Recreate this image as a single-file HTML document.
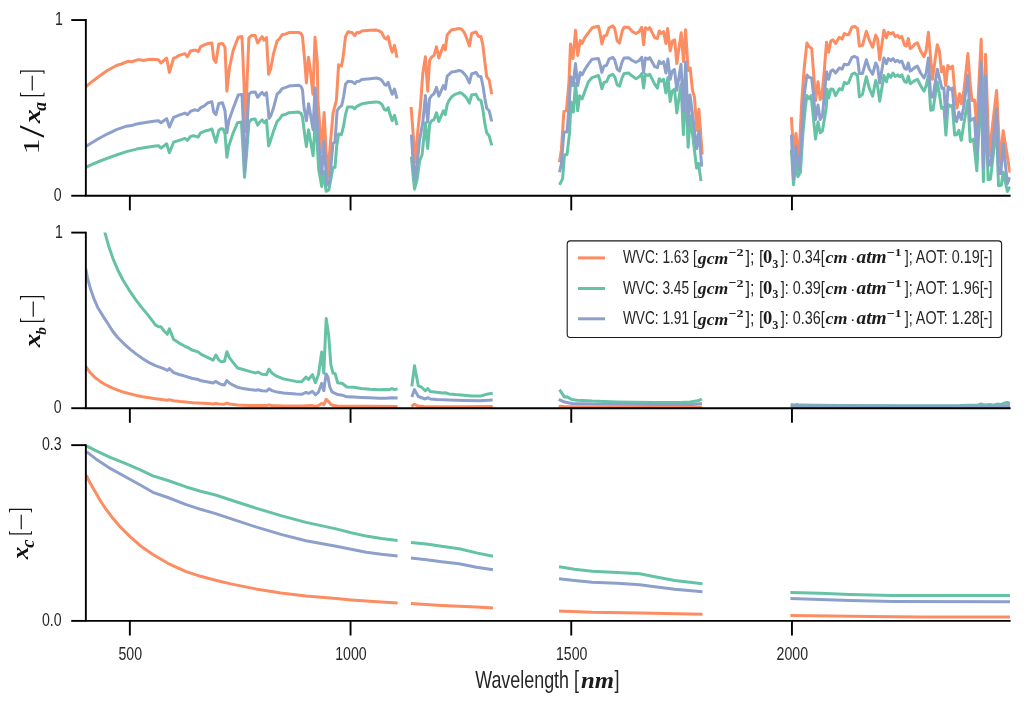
<!DOCTYPE html>
<html lang="en"><head><meta charset="utf-8"><title>Atmospheric correction coefficients</title>
<style>html,body{margin:0;padding:0;background:#fff}svg{display:block}</style></head>
<body>
<svg width="1024" height="701" viewBox="0 0 1024 701">
<rect width="1024" height="701" fill="#fff"/>
<defs>
<clipPath id="c0"><rect x="85.8" y="20.1" width="924.8" height="175.7"/></clipPath>
<clipPath id="c1"><rect x="85.8" y="232.6" width="924.8" height="175.6"/></clipPath>
<clipPath id="c2"><rect x="85.8" y="445.1" width="924.8" height="175.8"/></clipPath>
</defs>
<g clip-path="url(#c0)" fill="none" stroke-width="3.00" stroke-linejoin="round" stroke-linecap="butt">
<path stroke="#fc8d62" d="M85.7 86.8 L92.6 81.2 L100.2 75.5 L107.7 70.2 L116.5 65.5 L121.5 64.0 L127.8 61.3 L131.6 61.7 L138.5 59.6 L143.5 60.5 L149.7 59.2 L155.4 59.6 L158.5 59.8 L161.0 63.0 L166.7 58.2 L169.4 72.4 L173.6 58.2 L176.1 57.3 L179.2 55.4 L184.9 53.6 L187.4 56.9 L190.5 51.0 L193.7 50.2 L196.2 50.2 L198.3 51.7 L200.6 46.7 L204.3 44.8 L208.1 43.5 L211.9 42.9 L213.7 59.2 L215.9 62.3 L218.8 44.1 L222.5 43.5 L225.0 47.3 L226.9 91.2 L229.4 68.0 L233.2 50.4 L238.2 37.2 L242.0 36.6 L243.9 80.5 L245.5 131.5 L247.0 83.0 L248.9 37.9 L251.4 35.6 L255.2 35.6 L257.7 42.9 L260.2 39.1 L262.1 36.6 L263.9 40.1 L266.5 37.6 L268.6 74.3 L270.8 68.6 L273.4 54.2 L277.1 41.0 L279.6 38.5 L282.1 34.7 L285.9 33.9 L289.0 32.6 L298.5 32.5 L301.0 33.5 L302.5 36.6 L304.7 60.5 L306.4 83.0 L308.5 57.3 L310.4 70.5 L312.9 94.3 L315.0 37.2 L317.3 61.7 L317.9 100.3 L321.7 152.3 L324.1 112.6 L327.5 177.0 L333.0 113.3 L336.4 100.3 L338.6 64.8 L341.4 66.1 L343.0 57.9 L345.5 36.6 L348.0 31.8 L352.4 32.8 L354.7 35.6 L356.8 32.6 L359.3 32.8 L361.8 31.0 L370.0 30.3 L376.3 30.1 L379.4 31.0 L381.9 32.8 L384.4 37.9 L386.3 39.1 L388.2 36.4 L390.1 45.4 L392.2 52.3 L394.5 45.4 L397.0 57.7 M411.1 106.9 L412.9 130.9 L415.2 162.3 L417.7 132.1 L420.4 106.9 L422.7 74.3 L425.4 56.7 L427.7 91.2 L429.6 60.5 L431.5 57.3 L434.0 55.4 L436.5 46.7 L438.8 57.9 L443.4 45.4 L445.3 49.8 L447.2 34.7 L451.6 29.7 L455.3 29.3 L459.1 28.5 L461.6 29.3 L464.1 32.2 L466.6 37.9 L469.4 46.0 L471.6 33.5 L476.0 31.8 L478.5 36.4 L481.0 36.6 L482.9 45.4 L484.8 61.7 L486.7 76.8 L489.2 79.9 L491.7 94.3 M559.5 162.3 L561.4 149.7 L563.9 111.4 L566.4 110.8 L568.9 83.0 L570.5 44.1 L573.0 58.6 L575.5 30.3 L577.7 55.4 L580.2 40.4 L582.1 43.5 L584.6 37.9 L588.3 32.8 L592.1 27.8 L598.4 26.3 L599.9 32.2 L601.9 44.1 L604.0 36.0 L606.5 35.4 L609.0 27.8 L612.8 25.9 L614.7 28.5 L617.2 41.0 L619.5 43.1 L622.2 31.0 L624.1 27.2 L628.5 27.2 L632.3 31.6 L636.0 33.5 L639.2 31.6 L641.7 27.2 L643.6 44.8 L645.4 27.8 L647.9 29.3 L649.8 27.6 L652.3 32.8 L654.8 37.9 L657.4 38.5 L659.2 31.0 L661.1 33.5 L663.6 31.6 L665.9 43.5 L667.6 28.5 L670.2 51.0 L672.4 41.0 L674.7 39.8 L676.8 63.6 L681.2 32.8 L683.5 61.7 L685.6 29.7 L688.1 70.5 L690.2 68.0 L692.5 90.6 L694.4 96.8 L697.0 130.3 L698.9 109.3 L702.2 154.4 M791.4 117.1 L793.5 151.0 L796.0 133.4 L798.9 159.8 L801.7 101.9 L804.2 68.0 L806.9 43.1 L809.2 46.7 L811.7 48.5 L813.6 73.0 L815.5 100.6 L818.0 81.8 L820.2 99.4 L821.7 98.1 L824.3 70.5 L826.5 42.3 L828.6 52.3 L830.8 41.0 L833.0 39.8 L835.6 43.5 L839.3 37.2 L842.1 39.1 L844.3 33.5 L846.8 34.7 L848.7 34.7 L851.9 27.2 L854.4 26.3 L857.5 28.5 L859.4 46.0 L862.5 45.4 L866.3 31.3 L869.4 40.4 L872.6 47.3 L875.7 35.1 L877.6 39.1 L879.7 59.8 L883.9 30.3 L886.4 37.9 L888.3 32.2 L890.8 33.9 L893.0 32.6 L895.2 36.6 L897.7 35.4 L899.6 37.9 L901.8 36.4 L904.6 45.4 L906.5 46.0 L908.3 38.5 L910.2 48.5 L912.1 47.3 L914.9 44.1 L917.4 42.9 L920.6 51.0 L924.0 56.7 L926.2 50.4 L928.4 32.2 L930.6 57.9 L932.5 79.3 L935.0 60.5 L937.3 44.8 L939.4 51.0 L941.5 71.8 L943.5 66.7 L945.7 85.6 L947.8 65.5 L950.1 68.6 L952.6 66.1 L954.5 88.1 L957.0 108.1 L959.5 93.7 L961.4 103.8 L963.9 90.6 L965.7 74.3 L967.9 53.6 L970.1 83.0 L972.0 100.6 L974.5 100.0 L976.8 125.1 L981.2 39.2 L983.4 143.3 L985.6 54.3 L989.0 155.7 L996.6 90.5 L1000.1 162.3 L1003.2 130.8 L1010.0 172.7"/>
<path stroke="#66c2a5" d="M85.7 167.3 L92.6 164.1 L100.2 161.0 L107.7 158.1 L116.5 155.0 L126.5 151.6 L136.6 149.1 L145.4 147.6 L155.4 145.9 L158.5 145.7 L161.0 148.1 L166.7 143.8 L169.4 152.8 L173.6 142.2 L179.2 140.3 L184.9 138.4 L187.4 140.3 L190.5 136.5 L193.7 135.7 L198.1 137.2 L200.6 132.8 L204.3 131.3 L208.1 130.3 L211.9 129.0 L213.7 135.3 L215.9 142.2 L218.8 130.3 L220.6 128.8 L223.2 129.0 L225.0 134.0 L226.9 157.2 L228.8 145.9 L233.2 132.8 L237.6 122.7 L241.4 121.9 L243.2 152.2 L244.5 177.3 L246.4 156.0 L248.9 122.1 L251.4 119.6 L255.2 119.0 L257.7 125.2 L260.2 121.5 L262.1 119.8 L264.3 122.7 L266.5 120.2 L268.6 145.9 L270.8 139.7 L273.4 131.5 L277.1 121.5 L279.6 119.0 L282.1 115.2 L285.9 114.2 L289.0 112.7 L298.5 112.1 L301.0 113.3 L302.5 117.1 L304.7 134.7 L306.4 146.6 L308.6 129.7 L313.1 155.7 L315.6 115.4 L318.6 168.7 L321.7 186.5 L323.6 171.5 L326.1 191.3 L328.8 190.0 L333.0 167.4 L335.0 167.4 L336.7 145.9 L338.6 134.0 L341.4 134.7 L343.6 125.9 L345.5 114.6 L347.6 106.9 L352.4 106.9 L354.7 108.8 L356.8 106.3 L361.8 103.8 L370.0 102.5 L376.3 101.9 L379.4 102.5 L381.9 104.4 L384.4 109.6 L386.3 110.2 L388.2 107.7 L390.1 114.6 L392.2 120.8 L394.5 115.2 L397.0 125.2 M411.4 156.6 L412.9 173.6 L414.5 189.2 L417.0 179.8 L419.6 161.0 L422.1 154.7 L425.4 122.7 L427.7 148.5 L429.6 124.6 L431.5 120.8 L434.0 119.6 L436.5 112.7 L438.8 121.5 L443.4 110.8 L445.3 114.6 L447.2 104.4 L449.0 100.6 L451.6 96.8 L455.3 94.3 L459.1 92.8 L461.6 93.1 L464.1 95.3 L466.6 98.1 L469.4 103.1 L471.6 95.0 L476.0 94.3 L478.5 99.4 L481.0 100.6 L482.9 109.6 L484.8 123.4 L486.7 132.8 L489.2 135.9 L491.7 145.3 M559.5 184.8 L562.6 178.6 L564.5 154.7 L567.0 154.7 L569.5 133.4 L571.0 102.0 L573.3 112.1 L575.5 83.2 L577.7 110.8 L579.6 95.8 L582.1 98.9 L584.6 92.0 L588.3 81.9 L592.1 77.6 L598.4 75.5 L599.9 80.5 L601.9 88.7 L604.0 82.4 L606.5 81.8 L609.0 76.1 L612.8 74.3 L614.7 76.8 L617.2 84.9 L619.5 86.2 L622.2 77.4 L624.1 73.6 L628.5 73.0 L632.3 76.1 L636.0 78.7 L639.2 76.8 L641.7 73.6 L643.6 88.1 L645.4 74.3 L647.9 75.5 L649.8 74.3 L652.3 79.3 L654.8 84.3 L657.4 88.1 L659.2 78.7 L661.1 81.2 L663.6 79.3 L665.9 93.1 L667.9 77.5 L670.2 101.5 L672.1 91.1 L674.5 89.2 L676.8 112.9 L681.0 84.5 L683.4 134.7 L685.7 82.3 L688.1 147.3 L690.4 115.8 L696.6 168.1 L698.5 163.3 L701.0 181.1 M791.4 149.7 L793.5 184.8 L796.0 162.3 L797.9 176.7 L800.4 172.3 L802.9 133.4 L805.4 106.9 L806.9 95.6 L809.2 98.7 L811.1 95.6 L812.7 110.8 L815.5 139.0 L818.0 122.1 L820.2 132.8 L822.4 130.9 L824.3 119.6 L826.3 106.9 L827.0 89.3 L828.6 98.1 L830.8 89.1 L833.0 89.3 L835.6 95.6 L839.3 88.7 L842.1 89.9 L844.3 82.4 L846.8 83.7 L848.7 82.4 L851.9 74.3 L854.4 73.0 L857.5 75.5 L859.4 96.8 L862.5 94.3 L866.3 76.8 L869.4 88.7 L872.6 96.2 L875.7 80.5 L877.6 86.2 L879.7 101.2 L883.9 75.5 L886.4 81.8 L888.3 74.3 L890.8 77.4 L893.0 73.0 L895.2 76.5 L897.7 74.9 L899.6 76.8 L901.8 74.9 L904.6 81.8 L906.5 82.4 L908.3 76.1 L910.2 83.7 L912.1 82.4 L914.9 80.5 L917.4 79.3 L920.6 85.6 L924.0 91.2 L926.2 85.6 L928.4 75.5 L930.7 110.2 L933.0 109.7 L937.3 81.9 L939.6 95.3 L941.5 108.3 L943.9 107.3 L945.9 135.1 L948.1 104.3 L950.5 106.3 L952.3 105.3 L954.7 135.1 L956.6 134.7 L958.9 130.4 L961.3 140.3 L963.6 125.3 L967.9 100.3 L970.2 141.6 L973.5 139.2 L976.8 170.8 L981.2 85.3 L983.4 181.6 L985.6 98.3 L988.1 179.7 L990.5 179.2 L996.6 125.3 L998.5 185.8 L1001.3 185.3 L1003.2 172.3 L1007.4 191.5 L1010.0 186.8"/>
<path stroke="#8da0cb" d="M85.7 146.6 L92.6 142.2 L100.2 137.8 L107.7 133.8 L116.5 129.6 L126.5 126.2 L131.6 125.6 L136.6 124.0 L145.4 122.5 L155.4 121.0 L158.5 120.8 L161.0 122.7 L166.7 118.6 L169.4 127.1 L173.6 117.3 L179.2 115.2 L184.9 113.1 L187.4 114.8 L190.5 111.4 L194.3 109.8 L198.1 110.6 L200.6 107.7 L204.3 105.8 L208.1 102.7 L211.9 101.8 L213.7 112.1 L215.9 114.6 L218.8 103.5 L222.5 102.7 L225.0 110.8 L226.9 132.8 L228.8 120.8 L233.2 108.3 L238.2 95.1 L242.0 94.5 L243.2 120.8 L244.5 171.7 L246.4 145.9 L248.0 108.3 L248.9 94.2 L251.4 92.2 L255.2 92.0 L257.7 97.3 L260.2 94.2 L262.1 92.4 L264.3 95.1 L266.5 92.6 L268.1 108.3 L269.0 118.3 L270.8 115.8 L273.4 108.3 L277.1 94.2 L279.6 92.0 L282.1 88.6 L285.9 87.3 L289.0 86.1 L298.5 85.2 L301.0 86.5 L302.5 89.9 L304.1 108.3 L306.4 120.8 L308.6 103.7 L313.1 129.7 L315.0 87.7 L318.6 141.4 L321.7 174.2 L324.1 141.4 L326.8 185.2 L329.5 181.1 L333.0 143.4 L335.0 142.0 L337.1 110.6 L339.9 106.9 L341.7 105.6 L343.6 96.8 L345.5 84.3 L348.0 81.2 L352.4 81.8 L354.7 83.7 L356.8 81.4 L359.3 81.2 L361.8 79.5 L370.0 78.7 L376.3 78.0 L379.4 78.7 L381.9 80.5 L384.4 84.3 L386.3 85.3 L388.2 82.4 L390.1 88.7 L392.2 94.3 L394.5 89.1 L397.0 98.7 M411.4 134.7 L412.9 158.5 L414.9 179.8 L417.7 158.5 L419.6 139.7 L422.7 123.4 L425.4 95.6 L427.7 122.1 L429.6 98.7 L431.5 95.6 L434.0 93.7 L436.5 87.4 L438.8 96.2 L443.4 85.6 L445.3 89.1 L447.2 76.1 L451.6 72.0 L455.3 71.5 L459.1 70.5 L461.6 71.1 L464.1 73.6 L466.6 76.8 L469.4 83.0 L471.6 74.0 L476.0 72.4 L478.5 76.1 L481.0 76.8 L482.9 85.6 L484.8 98.1 L486.7 108.3 L489.2 110.8 L491.7 121.5 M559.5 172.3 L561.4 163.5 L563.9 132.1 L567.0 132.1 L568.9 108.3 L570.8 76.8 L573.0 85.6 L575.5 63.6 L577.7 85.6 L580.2 72.4 L582.1 74.9 L584.6 69.9 L588.3 64.2 L592.1 59.2 L598.4 58.6 L599.9 63.6 L601.9 72.4 L604.0 66.1 L606.5 65.5 L609.0 59.2 L612.8 57.3 L614.7 59.8 L617.2 69.2 L619.5 71.1 L622.2 61.7 L624.1 57.9 L628.5 57.7 L632.3 60.5 L636.0 62.3 L639.2 60.5 L641.7 57.3 L643.6 72.4 L645.4 57.9 L647.9 59.2 L649.8 57.7 L652.3 62.3 L654.8 66.7 L657.4 67.7 L659.2 61.1 L661.1 63.6 L663.6 61.7 L665.9 73.0 L667.9 59.1 L670.2 79.4 L672.1 71.4 L674.5 69.5 L676.8 90.2 L681.0 64.3 L683.4 111.3 L685.7 61.9 L688.1 125.3 L690.0 94.9 L691.9 109.0 L696.6 148.8 L698.9 130.9 L701.7 166.7 M791.4 134.7 L793.5 178.6 L796.0 145.9 L798.9 169.8 L801.0 149.7 L803.2 106.9 L804.8 90.6 L806.9 74.9 L809.2 77.4 L811.7 78.0 L813.6 95.6 L815.5 119.6 L818.0 105.0 L820.2 119.6 L822.4 115.8 L824.3 95.6 L826.5 71.8 L828.6 79.3 L830.8 71.1 L833.0 69.9 L835.6 73.0 L839.3 68.0 L842.1 69.2 L844.3 64.2 L846.8 64.8 L848.7 64.2 L851.9 57.3 L854.4 56.4 L857.5 57.9 L859.4 73.6 L862.5 73.6 L866.3 59.8 L869.4 69.2 L872.6 74.3 L875.7 63.0 L877.6 66.7 L879.7 83.0 L883.9 57.9 L886.4 63.6 L888.3 58.6 L890.8 60.5 L893.0 58.6 L895.2 61.7 L897.7 60.2 L899.6 62.3 L901.8 61.1 L904.6 68.6 L906.5 69.2 L908.3 63.0 L910.2 71.1 L912.1 69.9 L914.9 67.4 L917.4 66.1 L920.6 73.0 L924.0 78.0 L926.2 73.0 L928.4 57.9 L930.7 97.0 L933.0 97.0 L937.3 69.2 L939.6 79.1 L942.0 88.5 L943.9 88.1 L945.9 117.9 L948.1 86.7 L950.5 89.5 L952.3 88.1 L954.7 116.3 L956.6 121.7 L958.9 112.1 L961.3 119.6 L963.6 107.3 L967.9 75.3 L970.2 120.8 L974.5 118.1 L976.8 153.8 L981.2 62.3 L983.4 168.4 L985.6 75.9 L988.1 165.1 L990.5 165.1 L996.6 109.1 L998.5 173.6 L1000.8 173.6 L1003.2 143.7 L1007.4 183.5 L1010.0 177.3"/>
</g>
<g clip-path="url(#c1)" fill="none" stroke-width="3.00" stroke-linejoin="round" stroke-linecap="butt">
<path stroke="#fc8d62" d="M85.7 366.3 L90.1 372.6 L95.2 377.6 L100.2 381.4 L105.2 384.5 L111.5 387.7 L117.7 390.2 L124.0 392.3 L130.3 393.9 L136.6 395.5 L142.8 396.7 L149.1 397.7 L155.4 398.7 L161.7 399.6 L167.3 400.2 L169.4 399.6 L173.6 400.8 L180.5 401.6 L193.0 402.7 L208.1 403.6 L213.1 403.9 L215.9 403.4 L218.8 403.9 L224.4 404.2 L226.9 403.1 L229.4 403.9 L237.6 404.9 L249.5 405.4 L266.5 405.6 L269.0 404.9 L272.1 405.4 L283.4 405.9 L301.6 406.1 L312.5 405.6 L315.4 406.4 L318.5 405.6 L321.7 403.4 L323.8 404.9 L326.1 399.3 L328.6 401.5 L331.1 404.6 L333.6 405.6 L337.6 405.9 L397.6 406.5 M411.4 406.5 L414.5 404.2 L417.7 405.9 L423.9 406.5 L464.1 406.7 L492.7 406.5 M558.8 406.2 L564.5 406.6 L592.1 406.9 L701.9 407.0 M790.7 406.9 L1010.0 407.1"/>
<path stroke="#66c2a5" d="M103.3 226.4 L104.9 232.7 L109.0 247.1 L113.4 259.7 L117.7 269.7 L122.8 279.8 L129.0 289.8 L135.3 299.2 L141.6 307.4 L147.9 314.9 L155.4 324.9 L158.5 326.8 L161.0 326.8 L164.2 331.2 L167.3 334.3 L169.4 328.7 L173.6 339.4 L179.2 343.1 L184.9 346.3 L188.0 347.5 L191.8 350.0 L198.1 351.9 L201.2 354.4 L204.3 355.9 L208.1 357.6 L213.1 360.1 L215.9 355.0 L218.8 360.1 L221.3 361.9 L224.4 361.3 L226.9 351.7 L229.4 357.6 L233.2 362.6 L237.6 368.0 L243.2 369.5 L249.5 371.4 L255.8 373.0 L258.0 372.0 L262.1 374.2 L266.5 374.7 L269.0 369.2 L272.1 373.2 L277.1 376.4 L283.4 378.9 L289.7 380.1 L295.9 381.4 L301.6 381.8 L306.0 377.0 L308.5 379.5 L312.5 374.7 L315.4 382.7 L318.5 374.5 L321.7 351.9 L323.8 373.2 L326.2 318.5 L328.7 335.4 L330.8 364.3 L333.0 373.1 L335.2 373.7 L337.6 382.7 L342.4 383.5 L346.8 387.0 L353.7 387.3 L361.2 388.6 L370.0 389.3 L378.8 389.8 L386.3 389.6 L388.8 389.8 L391.9 388.6 L394.5 389.6 L397.6 388.9 M411.8 386.4 L414.5 365.7 L418.3 385.8 L421.4 387.0 L425.2 390.8 L427.7 388.6 L430.2 391.4 L436.5 392.3 L442.8 393.1 L445.3 392.7 L449.0 393.9 L455.3 394.6 L464.1 395.2 L471.6 396.1 L480.4 396.1 L486.7 394.3 L492.7 393.3 M559.5 389.6 L564.5 397.1 L567.0 396.8 L572.0 399.6 L577.0 400.2 L583.3 400.6 L592.1 401.1 L617.2 401.9 L654.8 402.4 L679.9 402.4 L690.0 401.9 L696.3 401.1 L699.4 400.2 L701.9 399.0 M790.7 404.5 L794.1 404.9 L797.1 404.5 L800.1 405.1 L840.1 405.5 L900.1 405.7 L960.1 405.5 L978.1 404.9 L981.1 403.9 L984.1 405.1 L990.1 404.5 L993.1 405.2 L998.1 403.9 L1001.1 404.8 L1004.1 403.1 L1007.1 402.5 L1010.0 403.5"/>
<path stroke="#8da0cb" d="M85.7 268.5 L87.6 278.5 L90.8 289.8 L93.9 298.6 L97.7 307.4 L101.4 313.6 L108.3 324.3 L112.7 331.2 L117.7 337.5 L124.0 343.8 L130.3 349.4 L136.6 354.4 L142.8 358.8 L149.1 362.6 L155.4 365.7 L161.0 367.6 L164.2 368.8 L167.3 370.5 L169.4 368.5 L173.6 372.6 L179.2 374.5 L184.9 376.1 L191.8 378.3 L198.1 379.5 L201.2 380.8 L208.1 382.0 L213.1 383.0 L215.9 381.4 L218.8 383.3 L221.3 384.5 L224.4 384.9 L226.9 380.5 L229.4 383.0 L233.2 385.2 L237.6 387.3 L243.2 388.6 L249.5 389.6 L255.8 390.2 L258.0 389.8 L262.1 390.8 L266.5 391.1 L269.0 388.9 L272.1 390.6 L277.1 392.1 L283.4 393.1 L289.7 393.6 L295.9 394.1 L301.6 394.3 L306.0 392.3 L308.5 393.3 L312.5 391.4 L315.4 394.8 L318.5 392.1 L321.7 383.3 L323.8 390.8 L326.1 373.9 L327.9 377.0 L329.8 387.0 L331.7 391.4 L333.6 392.7 L337.6 394.6 L342.4 395.2 L346.8 396.8 L353.7 397.1 L361.2 397.5 L370.0 397.8 L378.8 398.3 L386.3 398.3 L391.9 397.8 L397.6 398.1 M411.8 397.1 L414.5 389.6 L418.3 396.5 L425.2 399.0 L427.7 397.7 L430.2 399.0 L436.5 399.6 L449.0 400.1 L464.1 400.6 L480.4 400.8 L492.7 400.1 M558.8 399.3 L564.5 402.1 L572.0 403.4 L592.1 404.0 L654.8 404.4 L692.5 404.4 L701.9 403.6 M790.7 405.9 L900.1 406.3 L1000.1 406.1 L1010.0 405.5"/>
</g>
<g clip-path="url(#c2)" fill="none" stroke-width="3.00" stroke-linejoin="round" stroke-linecap="butt">
<path stroke="#fc8d62" d="M86.4 475.4 L90.1 483.0 L95.2 491.8 L100.2 500.5 L105.2 508.1 L112.7 518.1 L120.3 526.9 L130.3 536.9 L140.3 545.7 L152.9 554.5 L167.9 563.3 L185.5 571.3 L200.6 576.3 L215.6 580.3 L230.7 583.9 L255.8 588.9 L280.9 592.9 L306.0 595.9 L336.1 598.4 L351.2 599.9 L366.2 601.1 L381.3 602.1 L397.6 602.9 M410.9 603.6 L441.5 605.4 L476.6 606.9 L493.0 607.9 M559.0 610.9 L592.1 612.2 L639.8 612.9 L702.5 614.2 M790.4 615.4 L870.1 616.5 L920.1 616.9 L1010.0 617.1"/>
<path stroke="#66c2a5" d="M86.4 445.8 L95.2 450.3 L110.2 457.4 L125.3 463.4 L140.3 469.9 L152.9 475.9 L167.9 480.5 L185.5 486.7 L200.6 491.2 L215.6 495.0 L230.7 500.0 L255.8 508.1 L280.9 515.6 L306.0 522.4 L336.1 528.9 L351.2 532.8 L366.2 536.1 L381.3 538.6 L397.6 540.4 M410.9 542.6 L426.5 544.1 L441.5 546.2 L459.1 548.7 L476.6 552.9 L493.0 556.2 M559.0 566.7 L574.5 569.2 L592.1 571.2 L617.2 572.5 L639.8 573.8 L654.8 576.8 L674.9 580.5 L702.5 583.8 M790.4 592.6 L820.1 593.3 L850.1 594.5 L893.1 595.6 L1010.0 595.6"/>
<path stroke="#8da0cb" d="M86.4 451.6 L95.2 458.4 L110.2 468.4 L125.3 476.7 L140.3 485.0 L152.9 492.3 L167.9 497.5 L185.5 504.3 L200.6 509.3 L215.6 513.6 L230.7 518.6 L255.8 526.9 L280.9 534.4 L306.0 540.7 L336.1 546.2 L351.2 549.2 L366.2 552.2 L381.3 554.2 L397.6 555.9 M410.9 557.9 L426.5 559.7 L441.5 561.7 L459.1 563.7 L476.6 567.2 L493.0 569.7 M559.0 578.8 L574.5 580.5 L592.1 582.3 L617.2 583.3 L639.8 584.8 L654.8 586.8 L674.9 589.3 L702.5 591.8 M790.4 598.6 L820.1 599.5 L850.1 600.5 L893.1 601.5 L1010.0 601.8"/>
</g>
<g stroke="#000" stroke-width="1.90" fill="none" stroke-linecap="butt">
<path d="M85.85 19.10 V196.70 M84.90 195.75 H1010.60"/>
<path d="M85.85 20.05 H71.25"/>
<path d="M85.85 195.75 H71.25"/>
<path d="M129.85 195.75 V210.35"/>
<path d="M350.55 195.75 V210.35"/>
<path d="M571.25 195.75 V210.35"/>
<path d="M791.95 195.75 V210.35"/>
<path d="M85.85 231.65 V409.15 M84.90 408.20 H1010.60"/>
<path d="M85.85 232.60 H71.25"/>
<path d="M85.85 408.20 H71.25"/>
<path d="M129.85 408.20 V422.80"/>
<path d="M350.55 408.20 V422.80"/>
<path d="M571.25 408.20 V422.80"/>
<path d="M791.95 408.20 V422.80"/>
<path d="M85.85 444.20 V621.85 M84.90 620.90 H1010.60"/>
<path d="M85.85 445.15 H71.25"/>
<path d="M85.85 620.90 H71.25"/>
<path d="M129.85 620.90 V635.50"/>
<path d="M350.55 620.90 V635.50"/>
<path d="M571.25 620.90 V635.50"/>
<path d="M791.95 620.90 V635.50"/>
</g>
<g font-family="'Liberation Sans', sans-serif" fill="#262626">
<text transform="translate(62.80 25.05) scale(0.765 1)" font-size="18.50" text-anchor="end" >1</text>
<text transform="translate(61.60 200.75) scale(0.765 1)" font-size="18.50" text-anchor="end" >0</text>
<text transform="translate(62.80 237.60) scale(0.765 1)" font-size="18.50" text-anchor="end" >1</text>
<text transform="translate(61.60 413.20) scale(0.765 1)" font-size="18.50" text-anchor="end" >0</text>
<text transform="translate(61.60 450.15) scale(0.765 1)" font-size="18.50" text-anchor="end" >0.3</text>
<text transform="translate(61.60 625.90) scale(0.765 1)" font-size="18.50" text-anchor="end" >0.0</text>
<text transform="translate(130.25 660.30) scale(0.765 1)" font-size="18.50" text-anchor="middle" >500</text>
<text transform="translate(350.95 660.30) scale(0.765 1)" font-size="18.50" text-anchor="middle" >1000</text>
<text transform="translate(571.65 660.30) scale(0.765 1)" font-size="18.50" text-anchor="middle" >1500</text>
<text transform="translate(792.35 660.30) scale(0.765 1)" font-size="18.50" text-anchor="middle" >2000</text>
<text transform="translate(475.20 687.80) scale(0.752 1)" font-size="23.80" text-anchor="start" >Wavelength [</text>
<text transform="translate(614.40 687.80) scale(0.752 1)" font-size="23.80" text-anchor="start" >]</text>
</g>
<text transform="translate(580.91 687.90) scale(1.2393 1.1355)" font-family="'Liberation Serif', serif" font-style="italic" font-weight="bold" font-size="20" fill="#1c1c1c">nm</text>
<text transform="translate(39.00 154.42) rotate(-90) scale(1.6133 1.1981)" font-family="'Liberation Serif', serif" font-style="normal" font-weight="normal" font-size="20" fill="#111">1</text>
<text transform="translate(44.42 137.70) rotate(-90) scale(2.2400 1.8400)" font-family="'Liberation Serif', serif" font-style="normal" font-weight="normal" font-size="20" fill="#111">/</text>
<text transform="translate(40.00 123.17) rotate(-90) scale(1.3900 1.2053)" font-family="'Liberation Serif', serif" font-style="italic" font-weight="bold" font-size="20" fill="#111">x</text>
<text transform="translate(45.61 110.70) rotate(-90) scale(0.8671 0.9300)" font-family="'Liberation Serif', serif" font-style="italic" font-weight="bold" font-size="20" fill="#111">a</text>
<text transform="translate(39.55 97.54) rotate(-90) scale(0.8320 1.4400)" font-family="'Liberation Serif', serif" font-style="normal" font-weight="normal" font-size="20" fill="#111">[</text>
<text transform="translate(40.23 92.09) rotate(-90) scale(1.5893 1.2000)" font-family="'Liberation Serif', serif" font-style="normal" font-weight="normal" font-size="20" fill="#111">−</text>
<text transform="translate(39.55 74.48) rotate(-90) scale(0.7680 1.4400)" font-family="'Liberation Serif', serif" font-style="normal" font-weight="normal" font-size="20" fill="#111">]</text>
<text transform="translate(39.60 347.37) rotate(-90) scale(1.3700 1.1627)" font-family="'Liberation Serif', serif" font-style="italic" font-weight="bold" font-size="20" fill="#111">x</text>
<text transform="translate(45.66 334.80) rotate(-90) scale(0.7639 0.7722)" font-family="'Liberation Serif', serif" font-style="italic" font-weight="bold" font-size="20" fill="#111">b</text>
<text transform="translate(39.55 323.14) rotate(-90) scale(0.8320 1.4400)" font-family="'Liberation Serif', serif" font-style="normal" font-weight="normal" font-size="20" fill="#111">[</text>
<text transform="translate(40.52 318.34) rotate(-90) scale(1.6427 1.2000)" font-family="'Liberation Serif', serif" font-style="normal" font-weight="normal" font-size="20" fill="#111">−</text>
<text transform="translate(39.55 300.32) rotate(-90) scale(0.8320 1.4400)" font-family="'Liberation Serif', serif" font-style="normal" font-weight="normal" font-size="20" fill="#111">]</text>
<text transform="translate(28.00 559.31) rotate(-90) scale(1.2600 1.1840)" font-family="'Liberation Serif', serif" font-style="italic" font-weight="bold" font-size="20" fill="#111">x</text>
<text transform="translate(33.72 547.70) rotate(-90) scale(0.9257 0.8900)" font-family="'Liberation Serif', serif" font-style="italic" font-weight="bold" font-size="20" fill="#111">c</text>
<text transform="translate(28.20 535.81) rotate(-90) scale(0.8107 1.3511)" font-family="'Liberation Serif', serif" font-style="normal" font-weight="normal" font-size="20" fill="#111">[</text>
<text transform="translate(29.02 530.86) rotate(-90) scale(1.5573 1.2000)" font-family="'Liberation Serif', serif" font-style="normal" font-weight="normal" font-size="20" fill="#111">−</text>
<text transform="translate(28.20 513.11) rotate(-90) scale(0.8107 1.3511)" font-family="'Liberation Serif', serif" font-style="normal" font-weight="normal" font-size="20" fill="#111">]</text>
<rect x="567.2" y="240.9" width="434.4" height="96.6" rx="3.2" ry="3.2" fill="#fff" stroke="#1a1a1a" stroke-width="1.1"/>
<path d="M578 257.9 H605" stroke="#fc8d62" stroke-width="3.00" fill="none"/>
<g font-family="'Liberation Sans', sans-serif" fill="#262626" font-size="18.3">
<text x="622.9" y="263.4" textLength="73.8" lengthAdjust="spacingAndGlyphs">WVC: 1.63 [</text>
<text x="745.6" y="263.4" textLength="17.8" lengthAdjust="spacingAndGlyphs">]; [</text>
<text x="780.8" y="263.4" textLength="43.9" lengthAdjust="spacingAndGlyphs">]: 0.34[</text>
<text x="904.7" y="263.4" textLength="87.7" lengthAdjust="spacingAndGlyphs">]; AOT: 0.19[-]</text>
</g>
<text transform="translate(697.85 263.63) scale(0.8862 0.8391)" font-family="'Liberation Serif', serif" font-style="italic" font-weight="bold" font-size="20" fill="#1c1c1c">gcm</text>
<text transform="translate(728.45 258.80) scale(0.6933 0.9600)" font-family="'Liberation Serif', serif" font-style="normal" font-weight="normal" font-size="20" fill="#1c1c1c">−</text>
<text transform="translate(736.56 256.20) scale(0.7086 0.5433)" font-family="'Liberation Serif', serif" font-style="normal" font-weight="bold" font-size="20" fill="#1c1c1c">2</text>
<text transform="translate(763.12 263.41) scale(0.9257 0.9164)" font-family="'Liberation Serif', serif" font-style="normal" font-weight="bold" font-size="20" fill="#1c1c1c">0</text>
<text transform="translate(772.22 267.71) scale(0.6057 0.6036)" font-family="'Liberation Serif', serif" font-style="normal" font-weight="bold" font-size="20" fill="#1c1c1c">3</text>
<text transform="translate(825.50 263.44) scale(0.8997 0.8200)" font-family="'Liberation Serif', serif" font-style="italic" font-weight="bold" font-size="20" fill="#1c1c1c">cm</text>
<text transform="translate(850.65 263.20) scale(0.6109 0.5333)" font-family="'Liberation Serif', serif" font-style="normal" font-weight="bold" font-size="20" fill="#1c1c1c">·</text>
<text transform="translate(856.50 263.40) scale(0.9688 0.9600)" font-family="'Liberation Serif', serif" font-style="italic" font-weight="bold" font-size="20" fill="#1c1c1c">atm</text>
<text transform="translate(886.65 258.80) scale(0.6933 0.9600)" font-family="'Liberation Serif', serif" font-style="normal" font-weight="normal" font-size="20" fill="#1c1c1c">−</text>
<text transform="translate(894.74 256.20) scale(0.6800 0.5433)" font-family="'Liberation Serif', serif" font-style="normal" font-weight="bold" font-size="20" fill="#1c1c1c">1</text>
<path d="M578 288.5 H605" stroke="#66c2a5" stroke-width="3.00" fill="none"/>
<g font-family="'Liberation Sans', sans-serif" fill="#262626" font-size="18.3">
<text x="622.9" y="294.0" textLength="73.8" lengthAdjust="spacingAndGlyphs">WVC: 3.45 [</text>
<text x="745.6" y="294.0" textLength="17.8" lengthAdjust="spacingAndGlyphs">]; [</text>
<text x="780.8" y="294.0" textLength="43.9" lengthAdjust="spacingAndGlyphs">]: 0.39[</text>
<text x="904.7" y="294.0" textLength="87.7" lengthAdjust="spacingAndGlyphs">]; AOT: 1.96[-]</text>
</g>
<text transform="translate(697.85 294.23) scale(0.8862 0.8391)" font-family="'Liberation Serif', serif" font-style="italic" font-weight="bold" font-size="20" fill="#1c1c1c">gcm</text>
<text transform="translate(728.45 289.40) scale(0.6933 0.9600)" font-family="'Liberation Serif', serif" font-style="normal" font-weight="normal" font-size="20" fill="#1c1c1c">−</text>
<text transform="translate(736.56 286.80) scale(0.7086 0.5433)" font-family="'Liberation Serif', serif" font-style="normal" font-weight="bold" font-size="20" fill="#1c1c1c">2</text>
<text transform="translate(763.12 294.01) scale(0.9257 0.9164)" font-family="'Liberation Serif', serif" font-style="normal" font-weight="bold" font-size="20" fill="#1c1c1c">0</text>
<text transform="translate(772.22 298.31) scale(0.6057 0.6036)" font-family="'Liberation Serif', serif" font-style="normal" font-weight="bold" font-size="20" fill="#1c1c1c">3</text>
<text transform="translate(825.50 294.04) scale(0.8997 0.8200)" font-family="'Liberation Serif', serif" font-style="italic" font-weight="bold" font-size="20" fill="#1c1c1c">cm</text>
<text transform="translate(850.65 293.80) scale(0.6109 0.5333)" font-family="'Liberation Serif', serif" font-style="normal" font-weight="bold" font-size="20" fill="#1c1c1c">·</text>
<text transform="translate(856.50 294.00) scale(0.9688 0.9600)" font-family="'Liberation Serif', serif" font-style="italic" font-weight="bold" font-size="20" fill="#1c1c1c">atm</text>
<text transform="translate(886.65 289.40) scale(0.6933 0.9600)" font-family="'Liberation Serif', serif" font-style="normal" font-weight="normal" font-size="20" fill="#1c1c1c">−</text>
<text transform="translate(894.74 286.80) scale(0.6800 0.5433)" font-family="'Liberation Serif', serif" font-style="normal" font-weight="bold" font-size="20" fill="#1c1c1c">1</text>
<path d="M578 318.8 H605" stroke="#8da0cb" stroke-width="3.00" fill="none"/>
<g font-family="'Liberation Sans', sans-serif" fill="#262626" font-size="18.3">
<text x="622.9" y="324.3" textLength="73.8" lengthAdjust="spacingAndGlyphs">WVC: 1.91 [</text>
<text x="745.6" y="324.3" textLength="17.8" lengthAdjust="spacingAndGlyphs">]; [</text>
<text x="780.8" y="324.3" textLength="43.9" lengthAdjust="spacingAndGlyphs">]: 0.36[</text>
<text x="904.7" y="324.3" textLength="87.7" lengthAdjust="spacingAndGlyphs">]; AOT: 1.28[-]</text>
</g>
<text transform="translate(697.85 324.53) scale(0.8862 0.8391)" font-family="'Liberation Serif', serif" font-style="italic" font-weight="bold" font-size="20" fill="#1c1c1c">gcm</text>
<text transform="translate(728.45 319.70) scale(0.6933 0.9600)" font-family="'Liberation Serif', serif" font-style="normal" font-weight="normal" font-size="20" fill="#1c1c1c">−</text>
<text transform="translate(736.56 317.10) scale(0.7086 0.5433)" font-family="'Liberation Serif', serif" font-style="normal" font-weight="bold" font-size="20" fill="#1c1c1c">2</text>
<text transform="translate(763.12 324.31) scale(0.9257 0.9164)" font-family="'Liberation Serif', serif" font-style="normal" font-weight="bold" font-size="20" fill="#1c1c1c">0</text>
<text transform="translate(772.22 328.61) scale(0.6057 0.6036)" font-family="'Liberation Serif', serif" font-style="normal" font-weight="bold" font-size="20" fill="#1c1c1c">3</text>
<text transform="translate(825.50 324.34) scale(0.8997 0.8200)" font-family="'Liberation Serif', serif" font-style="italic" font-weight="bold" font-size="20" fill="#1c1c1c">cm</text>
<text transform="translate(850.65 324.10) scale(0.6109 0.5333)" font-family="'Liberation Serif', serif" font-style="normal" font-weight="bold" font-size="20" fill="#1c1c1c">·</text>
<text transform="translate(856.50 324.30) scale(0.9688 0.9600)" font-family="'Liberation Serif', serif" font-style="italic" font-weight="bold" font-size="20" fill="#1c1c1c">atm</text>
<text transform="translate(886.65 319.70) scale(0.6933 0.9600)" font-family="'Liberation Serif', serif" font-style="normal" font-weight="normal" font-size="20" fill="#1c1c1c">−</text>
<text transform="translate(894.74 317.10) scale(0.6800 0.5433)" font-family="'Liberation Serif', serif" font-style="normal" font-weight="bold" font-size="20" fill="#1c1c1c">1</text>
</svg>
</body></html>
